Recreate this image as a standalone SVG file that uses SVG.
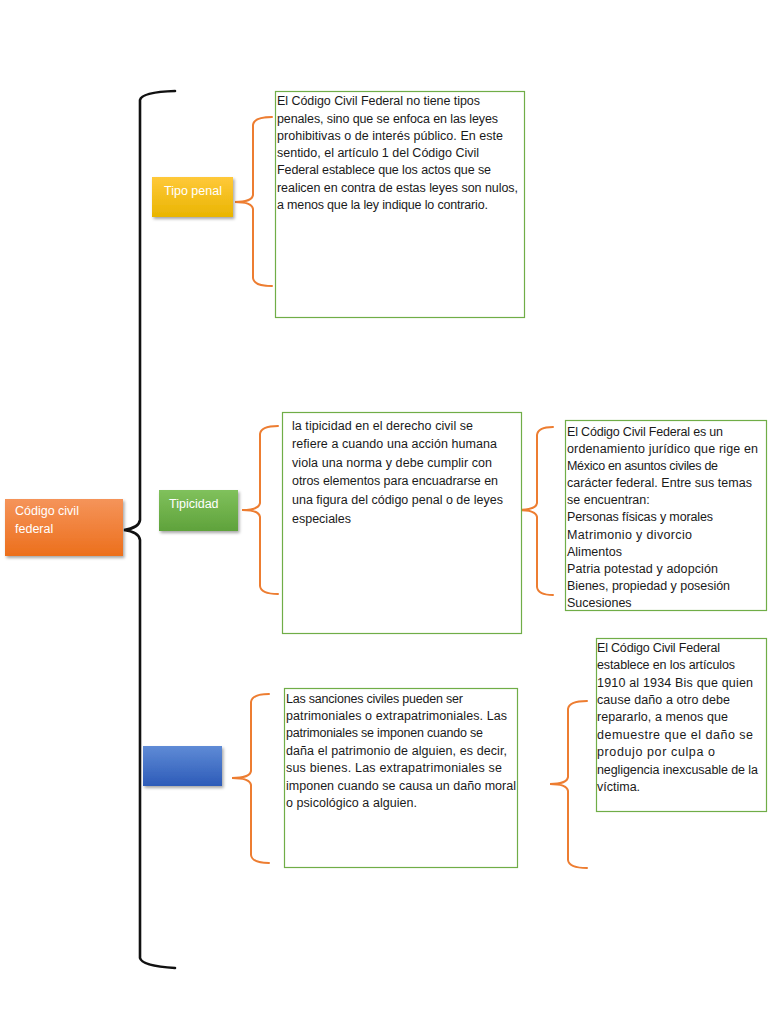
<svg xmlns="http://www.w3.org/2000/svg" width="768" height="1024" viewBox="0 0 768 1024">
<style>
.t{font-family:"Liberation Sans",Arial,sans-serif;font-size:12.5px;fill:#1a1a1a}
.l{font-family:"Liberation Sans",Arial,sans-serif;font-size:12.5px;fill:#ffffff}
.box{fill:#ffffff;stroke:#70AD47;stroke-width:1.2}
.ob{fill:none;stroke:#ED7D31;stroke-width:2;stroke-linecap:round}
.bb{fill:none;stroke:#111111;stroke-width:2.6;stroke-linecap:round}
</style>
<defs>
<linearGradient id="gO" x1="0" y1="0" x2="0" y2="1"><stop offset="0" stop-color="#F5945A"/><stop offset="1" stop-color="#EC6F1C"/></linearGradient>
<linearGradient id="gY" x1="0" y1="0" x2="0" y2="1"><stop offset="0" stop-color="#FFC93A"/><stop offset="1" stop-color="#E9B500"/></linearGradient>
<linearGradient id="gG" x1="0" y1="0" x2="0" y2="1"><stop offset="0" stop-color="#80C15C"/><stop offset="1" stop-color="#5FA23B"/></linearGradient>
<linearGradient id="gB" x1="0" y1="0" x2="0" y2="1"><stop offset="0" stop-color="#5F8BD6"/><stop offset="1" stop-color="#2D5BB8"/></linearGradient>
<filter id="sh" x="-10%" y="-10%" width="125%" height="135%"><feDropShadow dx="1.5" dy="2" stdDeviation="1.5" flood-color="#000" flood-opacity="0.35"/></filter>
</defs>

<g id="connectors">
<path class="bb" d="M175,91 Q142,92 140,100 L140,520 Q139,528 124,530 Q139,532 140,540 L140,958 Q142,966 175,968"/>
<path class="ob" d="M272,117 Q254,117 253,125 L253,195 Q252,202 235,202 Q252,202 253,209 L253,278 Q254,286 272,286"/>
<path class="ob" d="M278,426 Q261,426 260,434 L260,503 Q259,510 242,510 Q259,510 260,517 L260,586 Q261,594 278,594"/>
<path class="ob" d="M553,427 Q538,427 537,435 L537,503 Q536,510 518,510 Q536,510 537,517 L537,587 Q538,595 553,595"/>
<path class="ob" d="M269,694 Q252,694 251,702 L251,771 Q250,778 232,778 Q250,778 251,785 L251,855 Q252,863 269,863"/>
<path class="ob" d="M587,701 Q569,701 568,709 L568,777 Q567,784 550,784 Q567,784 568,791 L568,860 Q569,868 587,868"/>
</g>

<g id="root">
<rect x="5" y="499" width="118" height="57" fill="url(#gO)" filter="url(#sh)"/>
<text class="l" x="15" y="515">Código civil</text>
<text class="l" x="15" y="533">federal</text>
</g>

<g id="tipo-penal">
<rect x="152" y="177" width="81" height="40" fill="url(#gY)" filter="url(#sh)"/>
<text class="l" x="164" y="195">Tipo penal</text>
</g>

<g id="tipicidad">
<rect x="159" y="490" width="79" height="41" fill="url(#gG)" filter="url(#sh)"/>
<text class="l" x="169" y="508">Tipicidad</text>
</g>

<g id="blue">
<rect x="143" y="746" width="79" height="40" fill="url(#gB)" filter="url(#sh)"/>
</g>

<g id="box-tipo-penal">
<rect class="box" x="275.5" y="91.5" width="249" height="226"/>
<text class="t" x="277" y="105" textLength="203">El Código Civil Federal no tiene tipos</text>
<text class="t" x="277" y="122.5" textLength="221">penales, sino que se enfoca en las leyes</text>
<text class="t" x="277" y="140" textLength="226">prohibitivas o de interés público. En este</text>
<text class="t" x="277" y="157" textLength="202">sentido, el artículo 1 del Código Civil</text>
<text class="t" x="277" y="174" textLength="214">Federal establece que los actos que se</text>
<text class="t" x="277" y="191.5" textLength="241">realicen en contra de estas leyes son nulos,</text>
<text class="t" x="277" y="209" textLength="211">a menos que la ley indique lo contrario.</text>
</g>

<g id="box-tipicidad">
<rect class="box" x="282.5" y="412.5" width="239" height="221"/>
<text class="t" x="292" y="430" textLength="181">la tipicidad en el derecho civil se</text>
<text class="t" x="292" y="448" textLength="205">refiere a cuando una acción humana</text>
<text class="t" x="292" y="466.5" textLength="200">viola una norma y debe cumplir con</text>
<text class="t" x="292" y="485" textLength="206">otros elementos para encuadrarse en</text>
<text class="t" x="292" y="504" textLength="211">una figura del código penal o de leyes</text>
<text class="t" x="292" y="522.5">especiales</text>
</g>

<g id="box-codigo">
<rect class="box" x="565.5" y="420.5" width="201" height="190"/>
<text class="t" x="567" y="435.5" textLength="156">El Código Civil Federal es un</text>
<text class="t" x="567" y="452.5" textLength="191">ordenamiento jurídico que rige en</text>
<text class="t" x="567" y="469.5" textLength="151">México en asuntos civiles de</text>
<text class="t" x="567" y="486.5" textLength="185">carácter federal. Entre sus temas</text>
<text class="t" x="567" y="503.5">se encuentran:</text>
<text class="t" x="567" y="521" textLength="146">Personas físicas y morales</text>
<text class="t" x="567" y="538.5" textLength="125">Matrimonio y divorcio</text>
<text class="t" x="567" y="555.5">Alimentos</text>
<text class="t" x="567" y="572.5" textLength="151">Patria potestad y adopción</text>
<text class="t" x="567" y="590" textLength="163">Bienes, propiedad y posesión</text>
<text class="t" x="567" y="607">Sucesiones</text>
</g>

<g id="box-sanciones">
<rect class="box" x="284.5" y="688.5" width="233" height="179"/>
<text class="t" x="286" y="702.5" textLength="177">Las sanciones civiles pueden ser</text>
<text class="t" x="286" y="719.5" textLength="221">patrimoniales o extrapatrimoniales. Las</text>
<text class="t" x="286" y="737" textLength="197">patrimoniales se imponen cuando se</text>
<text class="t" x="286" y="754.5" textLength="221">daña el patrimonio de alguien, es decir,</text>
<text class="t" x="286" y="771.5" textLength="216">sus bienes. Las extrapatrimoniales se</text>
<text class="t" x="286" y="789.5" textLength="230">imponen cuando se causa un daño moral</text>
<text class="t" x="286" y="806.5" textLength="131">o psicológico a alguien.</text>
</g>

<g id="box-dano">
<rect class="box" x="596.5" y="638.5" width="170" height="173"/>
<text class="t" x="597" y="651.5" textLength="123">El Código Civil Federal</text>
<text class="t" x="597" y="668.5" textLength="138">establece en los artículos</text>
<text class="t" x="597" y="686.5" textLength="156">1910 al 1934 Bis que quien</text>
<text class="t" x="597" y="703.5" textLength="133">cause daño a otro debe</text>
<text class="t" x="597" y="720.5" textLength="131">repararlo, a menos que</text>
<text class="t" x="597" y="738.5" textLength="156">demuestre que el daño se</text>
<text class="t" x="597" y="755.5" textLength="118">produjo por culpa o</text>
<text class="t" x="597" y="773.5" textLength="161">negligencia inexcusable de la</text>
<text class="t" x="597" y="790.5">víctima.</text>
</g>
</svg>
